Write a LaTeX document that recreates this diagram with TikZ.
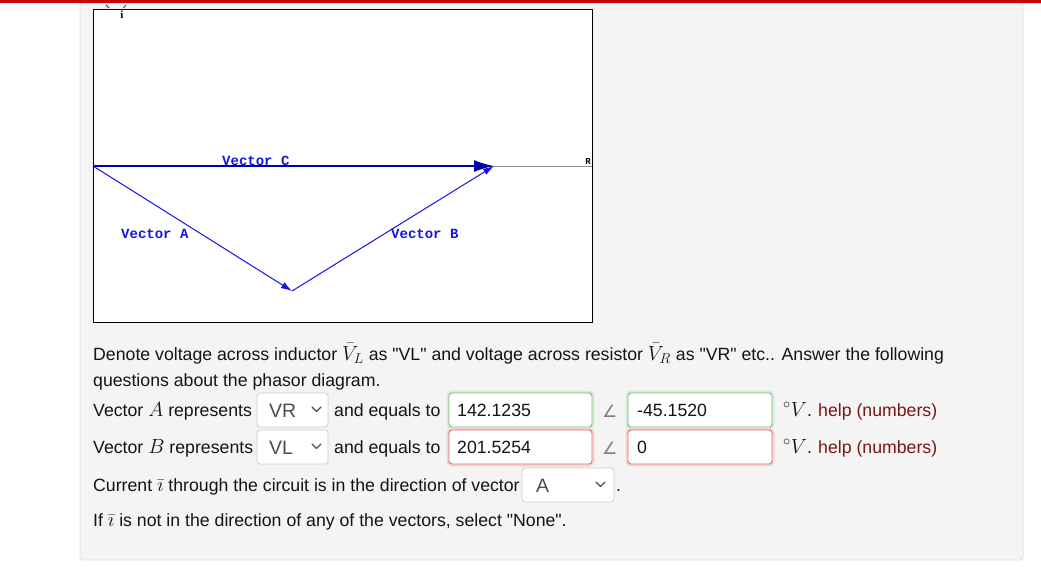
\RequirePackage{fix-cm}
\documentclass[tikz,border=0pt]{standalone}
\usepackage{fontspec}
\setmainfont{Liberation Sans}[Ligatures=TeXOff]
\newfontfamily\monob{Liberation Mono}[BoldFont={Liberation Mono Bold}]
\newfontfamily\serifb{Liberation Serif}
\newfontfamily\dejavu{DejaVu Sans}
\usetikzlibrary{arrows.meta}
\newcommand\mymath[1]{{\fontsize{20.5}{24}\selectfont$#1$}}
\definecolor{panelbg}{RGB}{244,244,244}
\definecolor{panelbd}{RGB}{222,222,222}
\definecolor{topred}{RGB}{204,0,0}
\definecolor{vecblue}{RGB}{20,20,230}
\definecolor{vecdark}{RGB}{0,0,170}
\definecolor{okgreen}{RGB}{120,190,120}
\definecolor{okglow}{RGB}{215,235,215}
\definecolor{badred}{RGB}{220,110,110}
\definecolor{badglow}{RGB}{240,215,215}
\definecolor{selbd}{RGB}{204,204,204}
\definecolor{helpcol}{RGB}{125,20,20}
\definecolor{txt}{RGB}{20,20,20}
\tikzset{
  body/.style={anchor=base west, inner sep=0pt, text=txt, font=\fontsize{17.7}{21}\selectfont},
  veclabel/.style={anchor=base west, inner sep=0pt, text=vecblue, font=\monob\bfseries\fontsize{14}{16}\selectfont},
  selbox/.style={draw=selbd, fill=white, rounded corners=3pt, line width=0.8pt},
  okbox/.style={draw=okgreen, fill=white, rounded corners=3pt, line width=0.9pt},
  badbox/.style={draw=badred, fill=white, rounded corners=3pt, line width=0.9pt},
  okhalo/.style={draw=okglow, rounded corners=4pt, line width=3pt},
  badhalo/.style={draw=badglow, rounded corners=4pt, line width=3pt},
  chev/.style={draw=black!70, line width=1.2pt, line cap=round, line join=round},
  vecline/.style={draw=vecblue, line width=1pt, -{Latex[length=11pt,width=7pt]}},
  boxtext/.style={anchor=base west, inner sep=0pt, text=txt, font=\fontsize{17.7}{21}\selectfont},
  seltext/.style={anchor=base west, inner sep=0pt, text=black!70, font=\fontsize{19.5}{22}\selectfont},
  angsym/.style={anchor=base west, inner sep=0pt, text=black!50, font=\dejavu\fontsize{17}{20}\selectfont},
  helptext/.style={anchor=base west, inner sep=0pt, text=helpcol, font=\fontsize{17.7}{21}\selectfont},
}
\begin{document}
\begin{tikzpicture}[x=1pt,y=-1pt]
\useasboundingbox (0,0) rectangle (1041,567);
\fill[white] (0,0) rectangle (1041,567);
% panel
\filldraw[fill=panelbg, draw=panelbd, line width=0.8pt, rounded corners=3pt] (80,2) rectangle (1023,560);
% top red bar
\fill[topred] (0,0) rectangle (1041,2.6);
\draw[black!12, line width=0.8pt] (80,3.4) -- (1041,3.4);
% plot box
\filldraw[fill=white, draw=black, line width=1pt] (93,10) rectangle (592,322);
% axes marks
\coordinate (ax0) at (93,166);
\coordinate (ax1) at (592,166);
\draw[black!45, line width=1pt] (ax0) -- (ax1);
\node[anchor=center, inner sep=0pt, font=\monob\bfseries\fontsize{9}{10}\selectfont] (Rlab) at (588,162) {R};
\node[anchor=center, inner sep=0pt, font=\serifb\bfseries\fontsize{11}{12}\selectfont] (ilab) at (122,15) {i};
\coordinate (t1a) at (106,5); \coordinate (t1b) at (109,8);
\coordinate (t2a) at (126,5); \coordinate (t2b) at (123.5,8);
\draw[black!80, line width=0.8pt] (t1a) -- (t1b);
\draw[black!80, line width=0.8pt] (t2a) -- (t2b);
% vectors
\coordinate (O) at (93,166);
\coordinate (P) at (292,291);
\coordinate (Q) at (494,166);
\draw[draw=vecdark, line width=2pt, -{Latex[length=20pt,width=12pt]}] (O) -- (Q);
\draw[vecline] (O) -- (P);
\draw[vecline] (P) -- (Q);
\node[veclabel] (labC) at (222,165) {Vector C};
\node[veclabel] (labA) at (121,238) {Vector A};
\node[veclabel] (labB) at (391,238) {Vector B};
% text lines
\node[body] (l1) at (93,360) {Denote voltage across inductor \mymath{\bar{V}_L} as "VL" and voltage across resistor \mymath{\bar{V}_R} as "VR" etc.. Answer the following};
\node[body] (l2) at (93,386) {questions about the phasor diagram.};
% row 3
\node[body] (r3a) at (93,416) {Vector \mymath{A} represents};
\draw[selbox] (257,393) rectangle (328,427);
\node[seltext] (s1) at (269,417) {VR};
\draw[chev] (312,407) -- (316.5,411.5) -- (321,407);
\node[body] (r3b) at (334,416) {and equals to};
\draw[okhalo] (448,392) rectangle (593,428);
\draw[okbox] (449,393) rectangle (592,427);
\node[boxtext] (v1) at (457,416) {142.1235};
\node[angsym] (ang1) at (602,417) {∠};
\draw[okhalo] (627,392) rectangle (773,428);
\draw[okbox] (628,393) rectangle (772,427);
\node[boxtext] (v2) at (637,416) {-45.1520};
\node[body] (u1) at (783,416) {\mymath{^\circ V}.};
\node[helptext] (h1) at (818,416) {help (numbers)};
% row 4
\node[body] (r4a) at (93,453) {Vector \mymath{B} represents};
\draw[selbox] (257,430) rectangle (328,464);
\node[seltext] (s2) at (269,454) {VL};
\draw[chev] (312,444) -- (316.5,448.5) -- (321,444);
\node[body] (r4b) at (334,453) {and equals to};
\draw[badhalo] (448,429) rectangle (593,465);
\draw[badbox] (449,430) rectangle (592,464);
\node[boxtext] (v3) at (457,453) {201.5254};
\node[angsym] (ang2) at (602,454) {∠};
\draw[badhalo] (627,429) rectangle (773,465);
\draw[badbox] (628,430) rectangle (772,464);
\node[boxtext] (v4) at (637,453) {0};
\node[body] (u2) at (783,453) {\mymath{^\circ V}.};
\node[helptext] (h2) at (818,453) {help (numbers)};
% row 5
\node[body] (r5) at (93,491) {Current \mymath{\bar{\imath}} through the circuit is in the direction of vector};
\draw[selbox] (522,468) rectangle (614,502);
\node[seltext] (s3) at (536,492) {A};
\draw[chev] (596,482) -- (600.5,486.5) -- (605,482);
\node[body] (dot5) at (616,491) {.};
% row 6
\node[body] (r6) at (93,526) {If \mymath{\bar{\imath}} is not in the direction of any of the vectors, select "None".};
\end{tikzpicture}
\end{document}
